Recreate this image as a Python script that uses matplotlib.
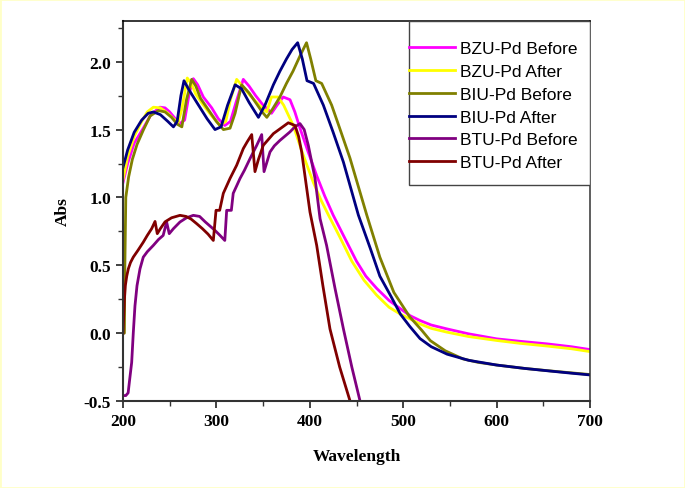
import matplotlib.pyplot as plt
from matplotlib.patches import Rectangle
from matplotlib.ticker import MultipleLocator

# values
bzu_before_wl = [200, 205, 212, 221.7, 230, 239.6, 245, 250, 256, 261, 266, 271, 275.3, 280, 286, 295, 302, 309, 315, 321,
                 328.8, 335, 342, 350, 355, 359, 365, 371.6, 378.8, 384, 389.5, 398, 407.4, 416, 425, 436, 450, 460,
                 471.6, 485, 497, 507, 518, 530, 547, 570, 600, 625, 654, 680, 700]
bzu_before_abs = [1.11, 1.25, 1.40, 1.51, 1.61, 1.665, 1.66, 1.63, 1.58, 1.545, 1.57, 1.77, 1.875, 1.83, 1.74, 1.66, 1.58,
                  1.53, 1.56, 1.70, 1.87, 1.82, 1.75, 1.68, 1.65, 1.62, 1.68, 1.74, 1.72, 1.63, 1.51, 1.34, 1.16, 1.01,
                  0.87, 0.72, 0.53, 0.42, 0.33, 0.24, 0.18, 0.13, 0.093, 0.06, 0.031, -0.005, -0.042, -0.06, -0.079,
                  -0.10, -0.121]

bzu_after_wl = [200, 205, 212, 220, 226, 232.5, 240, 248, 254, 259, 263, 268.8, 273, 278, 285, 295, 303.9, 310, 315,
                321.7, 328, 335, 343, 349, 353.9, 359, 366, 372, 382.3, 392, 403.8, 412, 420, 432, 445, 458, 471.6,
                485, 497, 507, 518, 530, 547, 570, 600, 625, 654, 680, 700]
bzu_after_abs = [1.13, 1.30, 1.45, 1.56, 1.63, 1.665, 1.66, 1.62, 1.58, 1.55, 1.65, 1.88, 1.84, 1.76, 1.69, 1.60, 1.53,
                 1.56, 1.72, 1.87, 1.82, 1.76, 1.70, 1.66, 1.63, 1.74, 1.74, 1.68, 1.53, 1.33, 1.11, 0.98, 0.87, 0.71,
                 0.53, 0.39, 0.28, 0.19, 0.14, 0.106, 0.068, 0.035, 0.007, -0.025, -0.054, -0.075, -0.095, -0.115,
                 -0.136]

biu_before_wl = [200, 201.5, 202, 203, 206, 210, 215, 222, 229, 238, 245, 252, 258, 263, 268, 273.5, 278, 283, 293,
                 300, 307.5, 314.6, 320, 327, 335, 343, 349, 354, 360, 368, 375, 382, 390, 396.5, 401, 406.5, 412.7,
                 423.4, 433, 443, 452, 461, 475, 490, 507, 520, 529, 545, 564, 580, 600, 630, 660, 700]
biu_before_abs = [0.0, 0.0, 0.5, 1.0, 1.15, 1.28, 1.39, 1.50, 1.60, 1.64, 1.63, 1.59, 1.54, 1.52, 1.72, 1.87, 1.82,
                  1.73, 1.63, 1.56, 1.50, 1.51, 1.62, 1.83, 1.77, 1.69, 1.63, 1.59, 1.65, 1.74, 1.84, 1.93, 2.05,
                  2.14, 2.02, 1.86, 1.84, 1.68, 1.49, 1.29, 1.08, 0.87, 0.56, 0.30, 0.12, 0.02, -0.055, -0.13, -0.19,
                  -0.215, -0.235, -0.26, -0.28, -0.305]

biu_after_wl = [200, 205, 212, 220, 227, 232.5, 240, 248, 254, 258, 262, 265.3, 270, 279, 290, 298.5, 305, 312, 320,
                327, 335, 345, 352, 361, 368, 375, 381, 387, 392, 397, 404, 414.5, 425, 436, 452, 465, 475, 487, 497,
                507, 518, 530, 547, 570, 600, 630, 654, 680, 700]
biu_after_abs = [1.22, 1.35, 1.48, 1.57, 1.62, 1.63, 1.61, 1.56, 1.52, 1.56, 1.75, 1.86, 1.80, 1.70, 1.58, 1.50, 1.52,
                 1.68, 1.83, 1.80, 1.70, 1.59, 1.68, 1.83, 1.93, 2.02, 2.09, 2.14, 2.02, 1.86, 1.84, 1.68, 1.48, 1.26,
                 0.87, 0.62, 0.42, 0.27, 0.14, 0.05, -0.04, -0.10, -0.155, -0.20, -0.235, -0.26, -0.277, -0.295,
                 -0.308]

btu_before_wl = [200, 203, 205.5, 207, 209.3, 211, 212.8, 215, 218.2, 221.7, 226, 232.4, 238, 243, 246.7, 249.5, 254,
                 261, 268, 275.3, 282, 288, 293, 298, 303.9, 309, 311, 316, 318, 322, 325.3, 330, 336, 343.2, 348.5,
                 351, 357.4, 362, 368, 378.8, 384, 389.5, 394, 398.4, 405.6, 411, 418, 427, 436, 445, 453.7]
btu_before_abs = [-0.46, -0.46, -0.44, -0.35, -0.215, 0.0, 0.2, 0.35, 0.474, 0.56, 0.60, 0.646, 0.69, 0.72, 0.819,
                  0.733, 0.77, 0.819, 0.85, 0.868, 0.86, 0.82, 0.79, 0.76, 0.72, 0.683, 0.905, 0.905, 1.03, 1.09,
                  1.14, 1.20, 1.286, 1.384, 1.463, 1.19, 1.335, 1.38, 1.42, 1.483, 1.52, 1.544, 1.50, 1.384, 1.14,
                  0.843, 0.646, 0.33, 0.031, -0.25, -0.498]

btu_after_wl = [200, 201.5, 202.5, 204, 205.7, 208, 211, 216, 221.7, 226, 230.7, 234.3, 236.7, 240, 245, 252, 261,
                267.5, 273, 279, 285, 291, 296.7, 299.6, 303.5, 307.4, 314.6, 321.7, 328.8, 333, 337.8, 341.3, 345,
                350.2, 356, 361, 369, 377, 384.2, 388, 391.3, 395, 400.2, 407.4, 414, 421.6, 432, 443]
btu_after_abs = [0.0, 0.25, 0.35, 0.42, 0.474, 0.52, 0.56, 0.61, 0.67, 0.72, 0.77, 0.823, 0.733, 0.77, 0.82, 0.85,
                 0.868, 0.86, 0.84, 0.806, 0.77, 0.73, 0.683, 0.905, 0.905, 1.03, 1.14, 1.237, 1.36, 1.41, 1.463, 1.19,
                 1.28, 1.384, 1.43, 1.47, 1.51, 1.55, 1.53, 1.45, 1.335, 1.15, 0.892, 0.646, 0.35, 0.031, -0.25,
                 -0.498]

series = [
    ("BZU-Pd Before", bzu_before_wl, bzu_before_abs, "#FF00FF"),
    ("BZU-Pd After", bzu_after_wl, bzu_after_abs, "#FFFF00"),
    ("BIU-Pd Before", biu_before_wl, biu_before_abs, "#808000"),
    ("BIU-Pd After", biu_after_wl, biu_after_abs, "#000080"),
    ("BTU-Pd Before", btu_before_wl, btu_before_abs, "#800080"),
    ("BTU-Pd After", btu_after_wl, btu_after_abs, "#800000"),
]

fig = plt.figure(figsize=(6.85, 4.89), dpi=100)
ax = fig.add_axes([123 / 685, 1 - 402 / 489, 467 / 685, 380 / 489])

for label, wl, ab, col in series:
    ax.plot(wl, ab, color=col, lw=2.0, label=label, solid_joinstyle='round')

ax.set_xlim(200, 700)
ax.set_ylim(-0.5, 2.3)
ax.xaxis.set_major_locator(MultipleLocator(100))
ax.xaxis.set_minor_locator(MultipleLocator(50))
ax.yaxis.set_major_locator(MultipleLocator(0.5))
ax.yaxis.set_minor_locator(MultipleLocator(0.25))
ax.tick_params(which='major', direction='out', length=5, width=1.3, color='#333333')
ax.tick_params(which='minor', direction='out', length=3.5, width=1.0, color='#333333')
ax.tick_params(top=False, right=False)

serif = 'Liberation Serif'
for t in ax.get_xticklabels() + ax.get_yticklabels():
    t.set_fontfamily(serif)
    t.set_fontweight('bold')
    t.set_fontsize(12.5)
ax.yaxis.set_major_formatter(plt.FuncFormatter(lambda v, p: f"{v:.1f}"))

ax.set_xlabel("Wavelength", fontfamily=serif, fontweight='bold', fontsize=12.5, labelpad=14)
ax.set_ylabel("Abs", fontfamily=serif, fontweight='bold', fontsize=12.5, labelpad=9)

for side in ['left', 'bottom']:
    ax.spines[side].set_linewidth(1.5)
    ax.spines[side].set_color('#333333')
ax.spines['top'].set_linewidth(1.1)
ax.spines['top'].set_color('black')
ax.spines['right'].set_linewidth(1.1)
ax.spines['right'].set_color('#333333')

# legend box drawn as a patch so the entries can sit flush left
lx0 = (409 - 123) / 467
ly0 = (402 - 186) / 380
ax.add_patch(Rectangle((lx0, ly0), 1 - lx0, 1 - ly0, transform=ax.transAxes,
                       facecolor='white', edgecolor='#444444', lw=1.0, zorder=5))
leg = ax.legend(loc='upper left', bbox_to_anchor=(lx0 + 0.001, 1 - 0.053), borderaxespad=0,
                frameon=False, prop={'family': 'Liberation Sans', 'size': 12.5},
                handlelength=2.6, handletextpad=0.3, labelspacing=0.44, borderpad=0)
leg.set_zorder(6)
for h in leg.get_lines():
    h.set_linewidth(2.0)

fig.patches.append(Rectangle((0, 0), 1, 1, transform=fig.transFigure, fill=False,
                             edgecolor='#FFFFC8', lw=2))

fig.savefig("out.png", dpi=100)
